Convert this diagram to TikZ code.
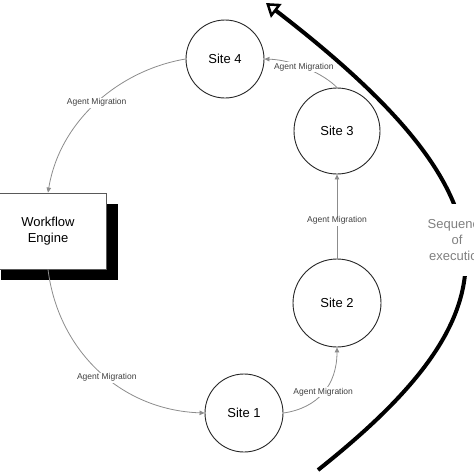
\documentclass[tikz,border=0pt]{standalone}
\usepackage{fontspec}
\setmainfont{Liberation Sans}
\usetikzlibrary{arrows.meta,shadows}
\begin{document}
\begin{tikzpicture}[x=1pt,y=-1pt,
  site/.style={circle,draw=black!85,line width=0.9pt,fill=white,inner sep=0pt,font=\fontsize{13}{15}\selectfont},
  engine/.style={rectangle,draw=black!65,line width=0.8pt,fill=white,minimum width=117pt,minimum height=76pt,align=center,font=\fontsize{13}{16}\selectfont,drop shadow={shadow xshift=11pt,shadow yshift=-10.5pt,fill=black,opacity=1}},
  mig/.style={draw=black!45,line width=0.8pt,-{Triangle[length=5pt,width=4.5pt]}},
  lbl/.style={fill=white,inner sep=1pt,text=black!75,font=\fontsize{8.5}{10}\selectfont},
  seqarrow/.style={line width=4pt,-{Triangle[open,length=13pt,width=17pt,line width=2.5pt]}},
  seqtext/.style={fill=white,align=center,text=black!50,font=\fontsize{13}{16}\selectfont,inner xsep=3pt,inner ysep=0pt,minimum height=72pt}
]
\useasboundingbox (0,0) rectangle (474,474);
% sequence arrow
\coordinate (seqstart) at (318,470);
\coordinate (seqtip) at (266,3);
\draw[seqarrow] (seqstart) .. controls (521,309) and (522,200) .. (seqtip);
\node[seqtext] (seq) at (457,240) {Sequence\\of\\execution};
% sites
\node[site,minimum size=78pt] (s4) at (225,59) {Site 4};
\node[site,minimum size=86pt] (s3) at (337,131) {Site 3};
\node[site,minimum size=88pt] (s2) at (337,303) {Site 2};
\node[site,minimum size=78pt] (s1) at (244,413) {Site 1};
\node[engine] (we) at (48,231) {Workflow\\Engine};
% migrations
\draw[mig] (s4.west) .. controls (120,70) and (60,120) .. (we.north) node[lbl,pos=0.5]{Agent Migration};
\draw[mig] (we.south) .. controls (58,350) and (120,410) .. (s1.west) node[lbl,pos=0.55]{Agent Migration};
\draw[mig] (s1.east) .. controls (318,408) and (337,385) .. (s2.south) node[lbl,pos=0.5]{Agent Migration};
\draw[mig] (s2.north) -- (s3.south) node[lbl,pos=0.45]{Agent Migration};
\draw[mig] (s3.north) .. controls (325,75) and (295,60) .. (s4.east) node[lbl,pos=0.55]{Agent Migration};
\end{tikzpicture}
\end{document}
